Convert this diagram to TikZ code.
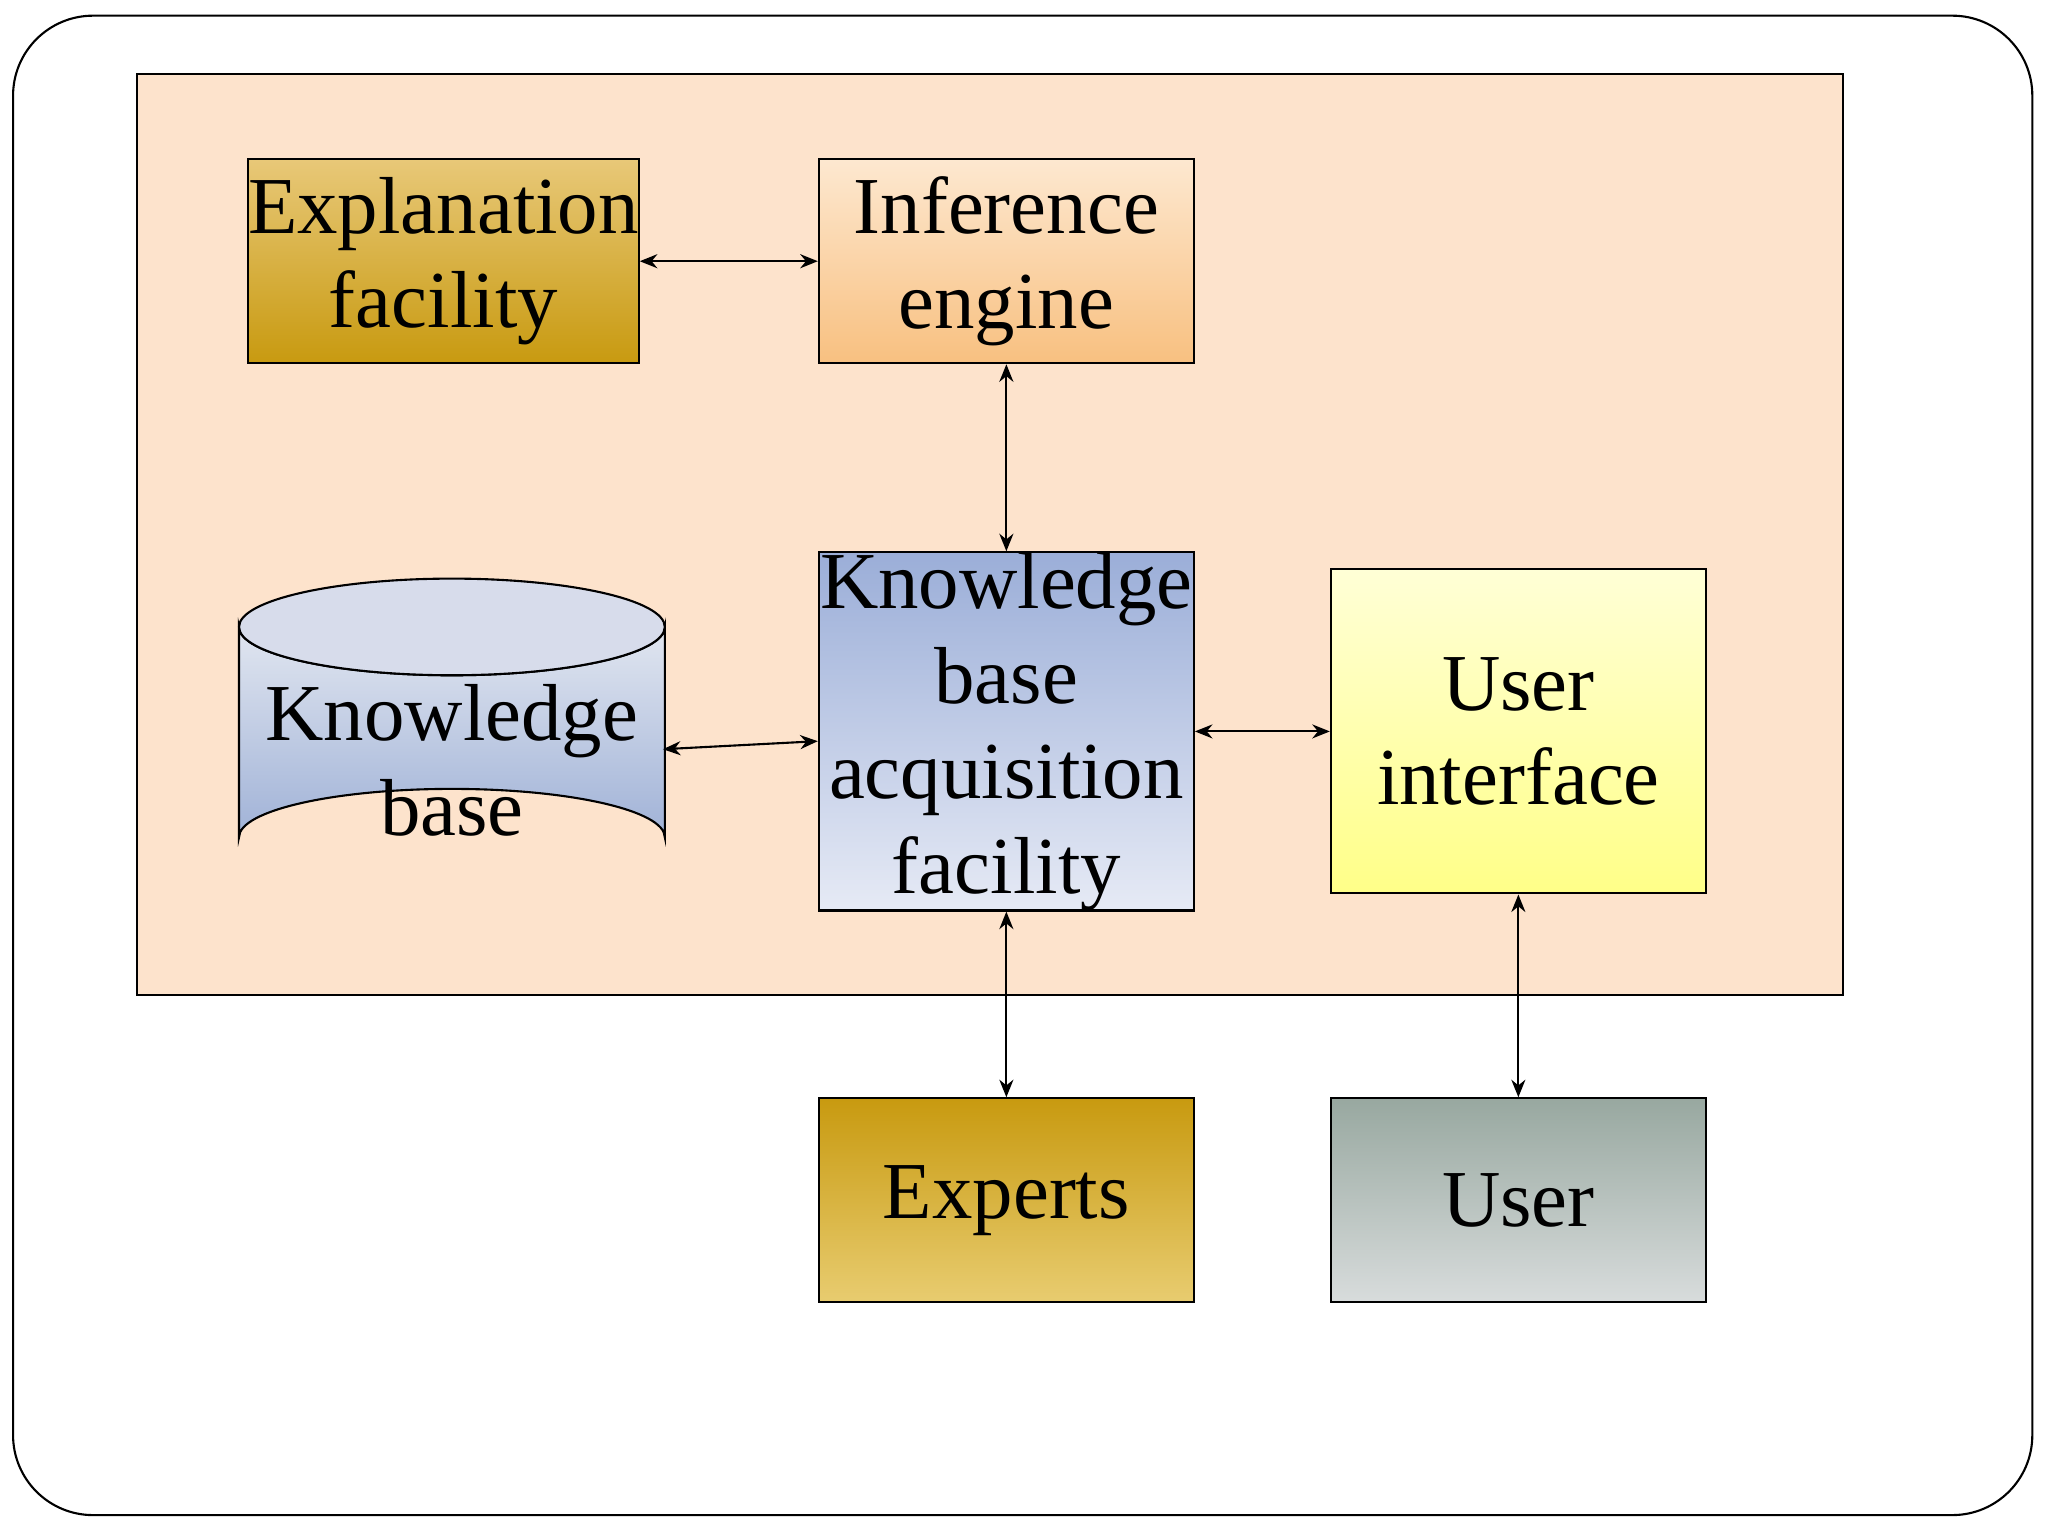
\documentclass[tikz,border=0pt]{standalone}
\usepackage{fontspec}
\setmainfont{Liberation Serif}
\usetikzlibrary{arrows.meta}
\begin{document}
\begin{tikzpicture}[x=0.013061cm,y=-0.013061cm,
  box/.style={draw=black,line width=0.6pt,minimum width=3.75cm,align=center,
    font=\fontsize{23}{27}\selectfont,inner sep=0pt},
  link/.style={{Stealth[length=5pt,width=4pt]}-{Stealth[length=5pt,width=4pt]},line width=0.6pt}]
\useasboundingbox (0,0) rectangle (1568,1176);
\draw[line width=0.6pt,rounded corners=0.8cm] (10,12) rectangle (1556,1160);
\draw[fill={rgb,255:red,253;green,227;blue,204},line width=0.6pt] (105,57) rectangle (1411,762);
% boxes
\node[box,minimum height=2.04cm,top color={rgb,255:red,232;green,200;blue,120},bottom color={rgb,255:red,200;green,154;blue,16}] (expl) at (339.5,200) {Explanation\\facility};
\node[box,minimum height=2.04cm,top color={rgb,255:red,253;green,232;blue,208},bottom color={rgb,255:red,248;green,192;blue,128}] (inf) at (770.5,200) {Inference\\engine};
\node[box,minimum height=3.24cm,top color={rgb,255:red,155;green,174;blue,216},bottom color={rgb,255:red,230;green,234;blue,245}] (kbaf) at (770.5,560) {Knowledge\\base\\acquisition\\facility};
\node[box,minimum height=3.24cm,top color={rgb,255:red,255;green,255;blue,214},bottom color={rgb,255:red,255;green,255;blue,136}] (ui) at (1162.5,560) {User\\interface};
\node[box,minimum height=2.04cm,top color={rgb,255:red,200;green,154;blue,16},bottom color={rgb,255:red,232;green,204;blue,112}] (exp) at (770.5,919) {Experts};
\node[box,minimum height=2.04cm,top color={rgb,255:red,152;green,168;blue,160},bottom color={rgb,255:red,216;green,220;blue,220}] (user) at (1162.5,919) {User};
% cylinder
\shade[top color={rgb,255:red,225;green,230;blue,240},bottom color={rgb,255:red,160;green,178;blue,215},draw=black,line width=0.6pt]
  (183,480) -- (183,641) arc[start angle=180,end angle=360,x radius=163,y radius=37] -- (509,480) arc[start angle=0,end angle=180,x radius=163,y radius=37] -- cycle;
\draw[line width=0.6pt,fill={rgb,255:red,215;green,220;blue,235}] (346,480) ellipse[x radius=163,y radius=37];
\node[box,draw=none,minimum width=4.2cm,minimum height=3.07cm] (kb) at (346,582) {Knowledge\\base};
% links
\draw[link] (expl) -- (inf);
\draw[link] (inf) -- (kbaf);
\draw[link] (kb) -- (kbaf);
\draw[link] (kbaf) -- (ui);
\draw[link] (kbaf) -- (exp);
\draw[link] (ui) -- (user);
\end{tikzpicture}
\end{document}
